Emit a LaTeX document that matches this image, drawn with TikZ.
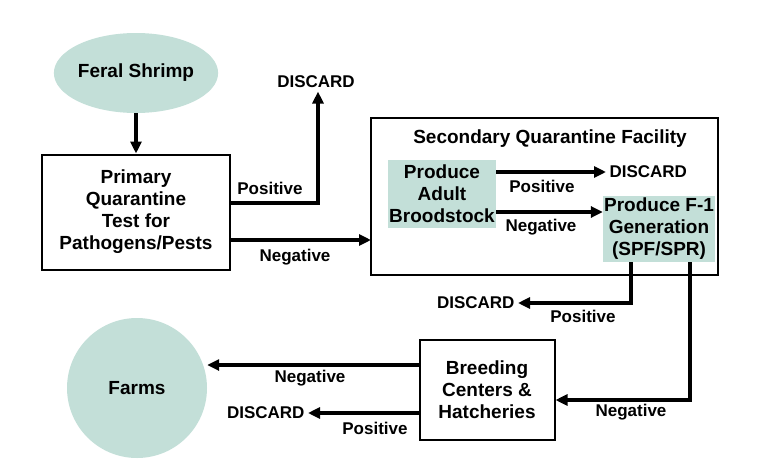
\documentclass[tikz,border=0pt]{standalone}
\usepackage{fontspec}
\setmainfont{Liberation Sans}
\usetikzlibrary{shapes.geometric,arrows.meta}
\definecolor{teal}{HTML}{C3DFD8}
\begin{document}
\begin{tikzpicture}[x=1pt,y=-1pt,
  lbl/.style={font=\bfseries\fontsize{17}{19}\selectfont},
  txt/.style={font=\bfseries\fontsize{19}{22}\selectfont,align=center},
  arr/.style={line width=3.5pt,-{Triangle[length=12pt,width=11pt]}},
  box/.style={draw,line width=2pt,fill=white,txt},
  fbox/.style={fill=teal,txt,inner sep=0pt}]
\useasboundingbox (0,0) rectangle (768,471);
\node[ellipse,fill=teal,minimum width=136pt,minimum height=80pt,inner sep=0pt,txt] (feral) at (136,73) {Feral Shrimp};
\node[box,minimum width=188pt,minimum height=115pt,inner sep=0pt] (prim) at (136,212) {Primary\\Quarantine\\Test for\\Pathogens/Pests};
\draw[line width=2pt] (371,118) rectangle (718,275);
\node[txt] (sec) at (550,139) {Secondary Quarantine Facility};
\node[fbox,minimum width=108pt,minimum height=68pt] (adult) at (442,194) {Produce\\Adult\\Broodstock};
\node[fbox,minimum width=112pt,minimum height=66pt] (f1) at (659,229) {Produce F-1\\Generation\\(SPF/SPR)};
\node[box,minimum width=135pt,minimum height=100pt,inner sep=0pt] (breed) at (487,390) {Breeding\\Centers \&\\Hatcheries};
\node[circle,fill=teal,minimum size=140pt,txt] (farms) at (137,388) {Farms};
\node[lbl] (d1) at (316,82) {DISCARD};
\node[lbl,anchor=west] (d2) at (606,172) {DISCARD};
\node[lbl,anchor=east] (d3) at (518,303) {DISCARD};
\node[lbl,anchor=east] (d4) at (308,413) {DISCARD};
\coordinate (sec w) at (371,240);
\draw[arr] (feral) -- (prim);
\draw[arr] (prim.east |- 0,203) -| (d1.south -| 318,0);
\node[lbl] at (270,188) {Positive};
\draw[arr] (prim.east |- 0,240) -- (sec w);
\node[lbl] at (295,257) {Negative};
\draw[arr] (adult.east |- 0,172) -- (d2.west);
\node[lbl] at (542,186) {Positive};
\draw[arr] (adult.east |- 0,212) -- (f1.west |- 0,212);
\node[lbl] at (541,227) {Negative};
\draw[arr] (f1.south -| 631,0) |- (d3.east);
\node[lbl] at (583,316) {Positive};
\draw[arr] (f1.south -| 690,0) |- (breed.east |- 0,400);
\node[lbl] at (631,412) {Negative};
\draw[arr] (breed.west |- 0,365) -- (farms.east |- 0,365);
\node[lbl] at (310,378) {Negative};
\draw[arr] (breed.west |- 0,413) -- (d4.east);
\node[lbl] at (375,428) {Positive};
\end{tikzpicture}
\end{document}
